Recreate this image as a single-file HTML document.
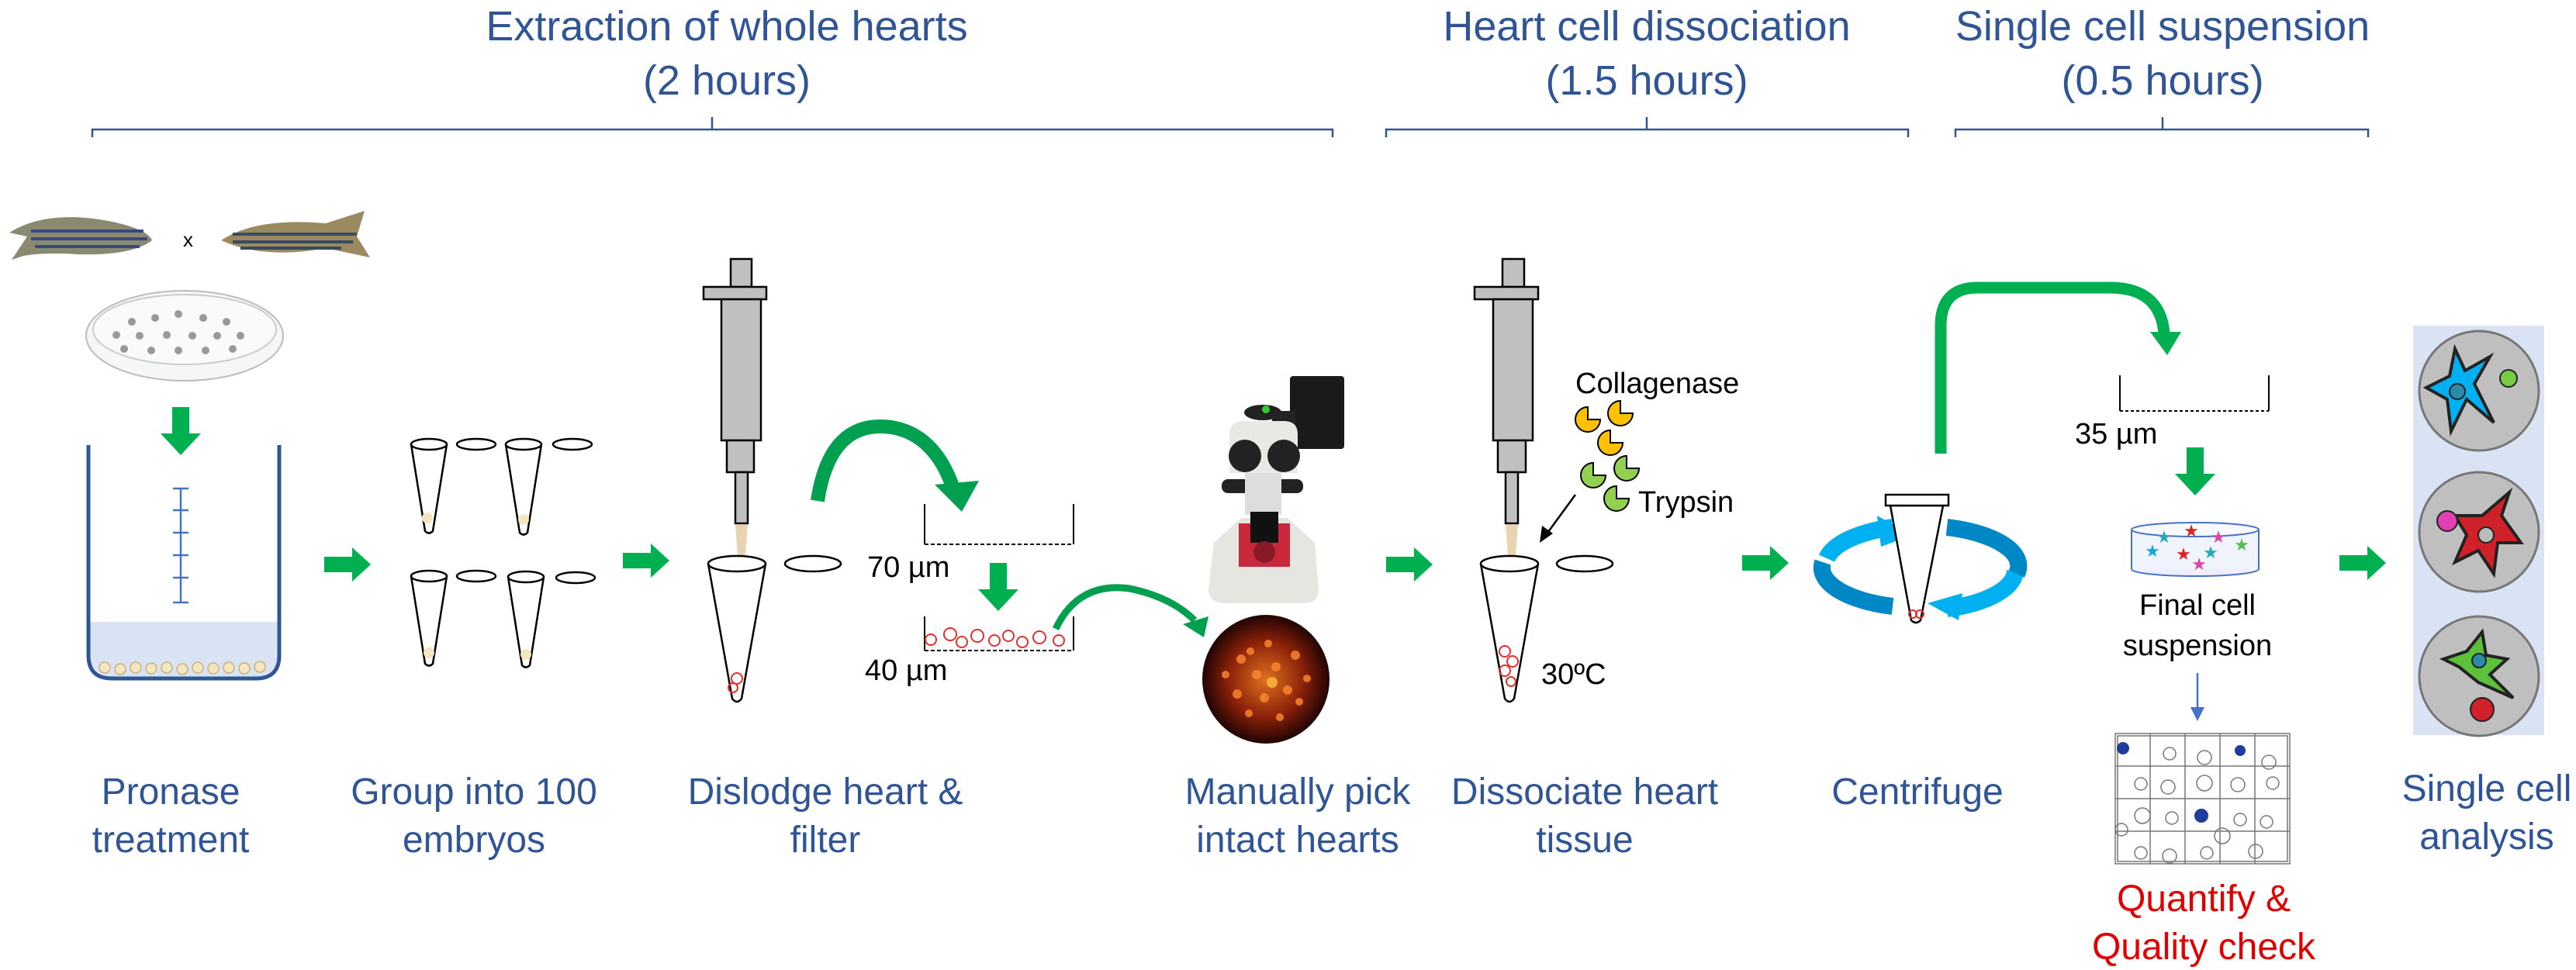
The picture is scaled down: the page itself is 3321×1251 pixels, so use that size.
<!DOCTYPE html>
<html><head><meta charset="utf-8"><style>
html,body{margin:0;padding:0;background:#fff;}
svg{display:block;}
.t{font-family:"Liberation Sans",sans-serif;fill:#2f5597;font-size:48px;text-anchor:middle;}
.h{font-family:"Liberation Sans",sans-serif;fill:#2f5597;font-size:54px;text-anchor:middle;}
.k{font-family:"Liberation Sans",sans-serif;fill:#000;font-size:38px;}
</style></head><body>
<svg width="3321" height="1251" viewBox="0 0 3321 1251" xmlns="http://www.w3.org/2000/svg">
<defs>
<g id="ra"><path d="M0,-10 H36 V-22 L60,0 L36,22 V10 H0 Z" fill="#00b050"/></g>
<g id="da"><path d="M-11,0 V34 H-26 L0,62 L26,34 H11 V0 Z" fill="#00b050"/></g>
<radialGradient id="fl" cx="50%" cy="50%" r="50%"><stop offset="0" stop-color="#e07020"/><stop offset="0.6" stop-color="#8a2008"/><stop offset="1" stop-color="#200404"/></radialGradient>
</defs>
<text class="h" x="937" y="52">Extraction of whole hearts</text>
<text class="h" x="937" y="122">(2 hours)</text>
<text class="h" x="2123" y="52">Heart cell dissociation</text>
<text class="h" x="2123" y="122">(1.5 hours)</text>
<text class="h" x="2788" y="52">Single cell suspension</text>
<text class="h" x="2788" y="122">(0.5 hours)</text>
<g stroke="#2f5597" stroke-width="2.5" fill="none">
<path d="M119,177 V167 H1718 V177 M918,167 V151"/>
<path d="M1787,177 V167 H2460 V177 M2123,167 V151"/>
<path d="M2521,177 V167 H3053 V177 M2788,167 V151"/>
</g>
<g>
<path d="M12,300 Q60,270 140,285 Q190,295 196,310 Q170,330 100,328 Q60,325 30,330 L15,335 L35,305 Z" fill="#8a8a70"/>
<path d="M40,298 H185 M40,308 H190 M45,318 H180" stroke="#3a4a80" stroke-width="4"/>
<text class="k" x="236" y="318" style="font-size:26px">x</text>
<path d="M285,310 Q330,280 420,288 L470,272 L460,305 L477,332 L420,320 Q340,335 285,310 Z" fill="#9a8a60"/>
<path d="M300,302 H460 M300,312 H455 M310,320 H440" stroke="#3a4a60" stroke-width="4"/>
</g>
<ellipse cx="238" cy="433" rx="127" ry="58" fill="#f4f6f8" stroke="#bbb" stroke-width="2"/>
<ellipse cx="238" cy="425" rx="118" ry="45" fill="#fafafa" stroke="#ccc" stroke-width="2"/>
<g fill="#999"><circle cx="170" cy="415" r="5"/><circle cx="200" cy="410" r="5"/><circle cx="230" cy="405" r="5"/><circle cx="262" cy="410" r="5"/><circle cx="292" cy="415" r="5"/><circle cx="150" cy="432" r="5"/><circle cx="180" cy="433" r="5"/><circle cx="215" cy="432" r="5"/><circle cx="248" cy="433" r="5"/><circle cx="280" cy="433" r="5"/><circle cx="310" cy="433" r="5"/><circle cx="160" cy="450" r="5"/><circle cx="195" cy="452" r="5"/><circle cx="230" cy="452" r="5"/><circle cx="265" cy="452" r="5"/><circle cx="300" cy="450" r="5"/></g>
<use href="#da" x="233" y="525"/>
<path d="M114,802 H360 V845 Q360,875 330,875 H144 Q114,875 114,845 Z" fill="#dae3f3"/>
<path d="M114,574 V845 Q114,875 144,875 H330 Q360,875 360,845 V574" fill="none" stroke="#2f5597" stroke-width="5"/>
<g fill="#f3e6c0" stroke="#c8b27a" stroke-width="1.5"><circle cx="135" cy="861" r="7"/><circle cx="155" cy="863" r="7"/><circle cx="175" cy="861" r="7"/><circle cx="195" cy="862" r="7"/><circle cx="215" cy="861" r="7"/><circle cx="235" cy="863" r="7"/><circle cx="255" cy="861" r="7"/><circle cx="275" cy="862" r="7"/><circle cx="295" cy="861" r="7"/><circle cx="315" cy="862" r="7"/><circle cx="335" cy="860" r="7"/></g>
<path d="M233,630 V777 M223,630 H243 M223,658 H243 M223,687 H243 M223,716 H243 M223,745 H243 M223,777 H243" stroke="#4472c4" stroke-width="2.5"/>
<use href="#ra" x="418" y="728"/>
<g fill="#fff" stroke="#000" stroke-width="2.5">
<path d="M530,573 L548,685 Q553,690 558,685 L576,573"/><ellipse cx="553" cy="573" rx="23" ry="7"/><ellipse cx="614" cy="573" rx="25" ry="7"/>
<path d="M652,573 L670,687 Q675,692 680,687 L698,573"/><ellipse cx="675" cy="573" rx="23" ry="7"/><ellipse cx="738" cy="573" rx="25" ry="7"/>
<path d="M530,743 L548,856 Q553,861 558,856 L576,743"/><ellipse cx="553" cy="743" rx="23" ry="7"/><ellipse cx="614" cy="743" rx="25" ry="7"/>
<path d="M655,744 L673,858 Q678,863 683,858 L701,744"/><ellipse cx="678" cy="744" rx="23" ry="7"/><ellipse cx="742" cy="745" rx="25" ry="7"/>
</g>
<g fill="#f3e6c0"><circle cx="551" cy="668" r="7"/><circle cx="675" cy="670" r="7"/><circle cx="553" cy="842" r="7"/><circle cx="678" cy="844" r="7"/></g>
<use href="#ra" x="803" y="723"/>
<g fill="#c0c0c0" stroke="#000" stroke-width="2.5">
<rect x="942" y="334" width="27" height="36"/><rect x="907" y="370" width="81" height="16"/><rect x="930" y="386" width="51" height="182"/><rect x="937" y="568" width="35" height="41"/><rect x="948" y="609" width="16" height="66"/>
</g>
<path d="M948,677 L956,780 L964,677 Z" fill="#e8d4b0"/>
<g fill="#fff" stroke="#000" stroke-width="2.5"><path d="M913,727 L944,901 Q950,909 956,901 L987,727"/><ellipse cx="950" cy="727" rx="37" ry="10"/><ellipse cx="1048" cy="727" rx="36" ry="10"/></g>
<g fill="none" stroke="#e03030" stroke-width="2"><circle cx="950" cy="875" r="7"/><circle cx="945" cy="887" r="6"/></g>
<path d="M1054,646 Q1070,540 1149,551 Q1205,560 1229,630" fill="none" stroke="#00a050" stroke-width="18"/>
<path d="M1205,625 L1262,620 L1240,660 Z" fill="#00a050"/>
<path d="M1192,650 V702 M1384,650 V702" stroke="#000" stroke-width="2"/><path d="M1192,702 H1384" stroke="#000" stroke-width="2" stroke-dasharray="5,3"/>
<text class="k" x="1118" y="744">70 µm</text>
<use href="#da" x="1287" y="726"/>
<path d="M1192,795 V839 M1384,795 V839" stroke="#000" stroke-width="2"/><path d="M1192,839 H1384" stroke="#000" stroke-width="2" stroke-dasharray="5,3"/>
<g fill="none" stroke="#e03030" stroke-width="2"><circle cx="1200" cy="825" r="7"/><circle cx="1225" cy="818" r="8"/><circle cx="1240" cy="828" r="7"/><circle cx="1260" cy="820" r="8"/><circle cx="1282" cy="826" r="7"/><circle cx="1300" cy="820" r="7"/><circle cx="1318" cy="828" r="7"/><circle cx="1340" cy="822" r="8"/><circle cx="1365" cy="826" r="7"/></g>
<text class="k" x="1115" y="877">40 µm</text>
<path d="M1361,811 Q1390,750 1456,759 Q1510,770 1540,800" fill="none" stroke="#00a050" stroke-width="9"/>
<path d="M1525,805 L1558,795 L1552,822 Z" fill="#00a050"/>
<rect x="1663" y="485" width="70" height="94" fill="#1a1a1a" rx="4"/>
<rect x="1640" y="530" width="30" height="25" fill="#222"/>
<ellipse cx="1628" cy="532" rx="24" ry="10" fill="#222"/><circle cx="1632" cy="528" r="5" fill="#3c3"/>
<path d="M1585,560 Q1585,543 1605,543 H1655 Q1673,543 1673,560 V610 H1585 Z" fill="#e8e8e4"/>
<circle cx="1605" cy="588" r="21" fill="#222"/><circle cx="1655" cy="588" r="21" fill="#222"/>
<rect x="1575" y="618" width="105" height="18" rx="8" fill="#222"/>
<rect x="1605" y="610" width="47" height="54" fill="#ddd"/>
<path d="M1565,700 L1600,668 H1660 L1695,700 L1700,760 Q1700,778 1680,778 H1580 Q1558,778 1558,760 Z" fill="#e6e6e0"/>
<rect x="1597" y="675" width="66" height="56" fill="#c8283a"/>
<rect x="1612" y="660" width="36" height="40" fill="#111"/>
<circle cx="1630" cy="712" r="14" fill="#8a1a28"/>
<ellipse cx="1632" cy="876" rx="82" ry="83" fill="url(#fl)"/>
<g fill="#ff8a30" opacity="0.8"><circle cx="1600" cy="850" r="6"/><circle cx="1620" cy="870" r="6"/><circle cx="1645" cy="860" r="6"/><circle cx="1660" cy="890" r="6"/><circle cx="1630" cy="900" r="6"/><circle cx="1595" cy="895" r="6"/><circle cx="1670" cy="845" r="6"/><circle cx="1610" cy="920" r="5"/><circle cx="1650" cy="925" r="5"/><circle cx="1580" cy="870" r="5"/><circle cx="1685" cy="875" r="5"/><circle cx="1635" cy="830" r="5"/><circle cx="1612" cy="840" r="5"/><circle cx="1675" cy="905" r="5"/><circle cx="1640" cy="880" r="7" fill="#ffc040"/></g>
<use href="#ra" x="1787" y="728"/>
<g fill="#c0c0c0" stroke="#000" stroke-width="2.5">
<rect x="1937" y="334" width="28" height="36"/><rect x="1901" y="370" width="82" height="16"/><rect x="1925" y="386" width="51" height="182"/><rect x="1931" y="568" width="36" height="41"/><rect x="1941" y="609" width="16" height="66"/>
</g>
<path d="M1941,677 L1949,780 L1957,677 Z" fill="#e8d4b0"/>
<g fill="#fff" stroke="#000" stroke-width="2.5"><path d="M1909,727 L1940,901 Q1946,909 1952,901 L1983,727"/><ellipse cx="1946" cy="727" rx="37" ry="10"/><ellipse cx="2043" cy="727" rx="36" ry="10"/></g>
<g fill="none" stroke="#e03030" stroke-width="2"><circle cx="1940" cy="840" r="7"/><circle cx="1950" cy="853" r="7"/><circle cx="1940" cy="865" r="7"/><circle cx="1948" cy="879" r="6"/></g>
<text class="k" x="2031" y="507">Collagenase</text>
<g stroke="#000" stroke-width="2"><path d="M2047,541 V525 A16,16 0 1,0 2063,541 Z" fill="#ffc000"/><path d="M2089,533 V517 A16,16 0 1,0 2105,533 Z" fill="#ffc000"/><path d="M2076,571 V555 A16,16 0 1,0 2092,571 Z" fill="#ffc000"/>
<path d="M2054,613 V597 A16,16 0 1,0 2070,613 Z" fill="#92d050"/><path d="M2097,604 V588 A16,16 0 1,0 2113,604 Z" fill="#92d050"/><path d="M2084,643 V627 A16,16 0 1,0 2100,643 Z" fill="#92d050"/></g>
<text class="k" x="2112" y="660">Trypsin</text>
<path d="M2031,638 L1993,690" stroke="#000" stroke-width="2.5"/><path d="M1985,700 L1988,678 L2002,688 Z" fill="#000"/>
<text class="k" x="1987" y="882">30ºC</text>
<use href="#ra" x="2246" y="726"/>
<path d="M2355,720 A127,52 0 0,1 2440,680" fill="none" stroke="#00b0f0" stroke-width="22"/>
<path d="M2420,665 L2465,690 L2425,705 Z" fill="#00b0f0"/>
<path d="M2598,735 A127,52 0 0,1 2510,785" fill="none" stroke="#00b0f0" stroke-width="22"/>
<path d="M2530,765 L2485,778 L2525,800 Z" fill="#00b0f0"/>
<path d="M2510,680 A127,52 0 0,1 2600,740" fill="none" stroke="#0088c6" stroke-width="22"/>
<path d="M2350,725 A127,52 0 0,0 2440,782" fill="none" stroke="#0088c6" stroke-width="22"/>
<g fill="#fff" stroke="#000" stroke-width="2.5"><path d="M2437,652 L2464,800 Q2470,806 2476,800 L2505,652 Z"/><rect x="2431" y="638" width="81" height="14"/></g>
<g fill="none" stroke="#e03030" stroke-width="2"><circle cx="2466" cy="792" r="5"/><circle cx="2475" cy="792" r="5"/></g>
<path d="M2502,585 V420 Q2502,371 2550,371 H2720 Q2785,371 2790,430" fill="none" stroke="#00b050" stroke-width="15"/>
<path d="M2772,428 L2812,428 L2794,458 Z" fill="#00b050"/>
<path d="M2733,484 V530 M2925,484 V530" stroke="#000" stroke-width="2"/><path d="M2733,530 H2925" stroke="#000" stroke-width="2" stroke-dasharray="4,3"/>
<text class="k" x="2675" y="572">35 µm</text>
<use href="#da" x="2830" y="577"/>
<ellipse cx="2830" cy="734" rx="82" ry="9" fill="#eef" stroke="#4472c4" stroke-width="2"/>
<rect x="2748" y="683" width="164" height="51" fill="#f0f4fc"/>
<path d="M2748,683 V734 M2912,683 V734" stroke="#4472c4" stroke-width="2"/>
<ellipse cx="2830" cy="683" rx="82" ry="9" fill="#f8f8ff" stroke="#4472c4" stroke-width="2"/>
<g font-size="22" font-family="DejaVu Sans" text-anchor="middle"><text x="2790" y="700" fill="#2ab">★</text><text x="2825" y="692" fill="#d22">★</text><text x="2860" y="700" fill="#d4a">★</text><text x="2890" y="710" fill="#5b5">★</text><text x="2775" y="718" fill="#1ad">★</text><text x="2815" y="722" fill="#d22">★</text><text x="2850" y="720" fill="#2ab">★</text><text x="2835" y="735" fill="#d4a">★</text></g>
<text class="k" x="2833" y="793" text-anchor="middle">Final cell</text>
<text class="k" x="2833" y="845" text-anchor="middle">suspension</text>
<path d="M2833,868 V915" stroke="#4472c4" stroke-width="2.5"/><path d="M2824,912 L2842,912 L2833,930 Z" fill="#4472c4"/>
<g stroke="#777" stroke-width="1.5" fill="none">
<rect x="2727" y="946" width="225" height="168"/><rect x="2730" y="949" width="219" height="162"/>
<path d="M2772,946 V1114 M2817,946 V1114 M2862,946 V1114 M2907,946 V1114 M2727,988 H2952 M2727,1030 H2952 M2727,1072 H2952"/>
<circle cx="2797" cy="972" r="8"/><circle cx="2842" cy="977" r="9"/><circle cx="2925" cy="983" r="9"/><circle cx="2760" cy="1011" r="8"/><circle cx="2795" cy="1015" r="9"/><circle cx="2842" cy="1010" r="10"/><circle cx="2885" cy="1012" r="9"/><circle cx="2930" cy="1010" r="8"/><circle cx="2762" cy="1052" r="10"/><circle cx="2800" cy="1055" r="8"/><circle cx="2888" cy="1057" r="8"/><circle cx="2922" cy="1060" r="8"/><circle cx="2735" cy="1070" r="8"/><circle cx="2865" cy="1078" r="10"/><circle cx="2760" cy="1100" r="8"/><circle cx="2797" cy="1104" r="9"/><circle cx="2845" cy="1100" r="8"/><circle cx="2908" cy="1098" r="9"/>
</g>
<g fill="#1f3d9a"><circle cx="2737" cy="965" r="8"/><circle cx="2888" cy="968" r="7"/><circle cx="2838" cy="1052" r="9"/></g>
<text x="2841" y="1175" style="font-family:'Liberation Sans',sans-serif;font-size:48px;fill:#e00000;text-anchor:middle">Quantify &amp;</text>
<text x="2841" y="1237" style="font-family:'Liberation Sans',sans-serif;font-size:48px;fill:#e00000;text-anchor:middle">Quality check</text>
<use href="#ra" x="3016" y="726"/>
<rect x="3111" y="420" width="169" height="528" fill="#dae3f3"/>
<g stroke="#777" stroke-width="3" fill="#bfbfbf"><circle cx="3196" cy="504" r="77"/><circle cx="3196" cy="686" r="77"/><circle cx="3196" cy="872" r="77"/></g>
<path d="M3165,450 L3178,478 L3210,460 L3190,495 L3215,545 L3180,515 L3160,556 L3155,515 L3128,500 L3158,485 Z" fill="#00b0f0" stroke="#222" stroke-width="4"/>
<circle cx="3168" cy="505" r="10" fill="#2a8aa8" stroke="#222" stroke-width="2"/>
<circle cx="3234" cy="488" r="11" fill="#7c4" stroke="#222" stroke-width="2"/>
<path d="M3235,635 L3225,665 L3250,700 L3220,700 L3215,740 L3195,710 L3165,725 L3180,690 L3165,665 L3200,665 Z" fill="#d0202a" stroke="#222" stroke-width="4"/>
<circle cx="3205" cy="690" r="10" fill="#bbb" stroke="#222" stroke-width="2"/>
<circle cx="3155" cy="672" r="13" fill="#e040b0" stroke="#222" stroke-width="2"/>
<path d="M3200,815 L3205,845 L3232,850 L3210,870 L3240,900 L3195,880 L3170,860 L3150,850 L3180,840 Z" fill="#5bc03a" stroke="#222" stroke-width="4"/>
<circle cx="3196" cy="852" r="9" fill="#2a8aa8" stroke="#222" stroke-width="2"/>
<circle cx="3200" cy="915" r="15" fill="#d0202a" stroke="#222" stroke-width="2"/>
<text class="t" x="220" y="1037">Pronase</text><text class="t" x="220" y="1099">treatment</text>
<text class="t" x="611" y="1037">Group into 100</text><text class="t" x="611" y="1099">embryos</text>
<text class="t" x="1064" y="1037">Dislodge heart &amp;</text><text class="t" x="1064" y="1099">filter</text>
<text class="t" x="1673" y="1037">Manually pick</text><text class="t" x="1673" y="1099">intact hearts</text>
<text class="t" x="2043" y="1037">Dissociate heart</text><text class="t" x="2043" y="1099">tissue</text>
<text class="t" x="2472" y="1037">Centrifuge</text>
<text class="t" x="3206" y="1033">Single cell</text><text class="t" x="3206" y="1095">analysis</text>
</svg>
</body></html>
